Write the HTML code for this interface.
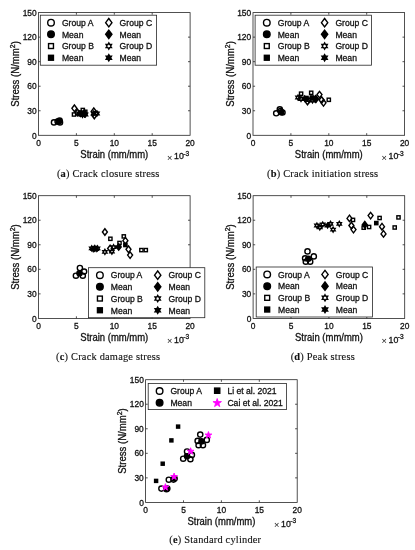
<!DOCTYPE html>
<html><head><meta charset="utf-8"><title>Figure</title>
<style>html,body{margin:0;padding:0;background:#fff}svg{display:block}text{font-family:"Liberation Sans",sans-serif;fill:#111;stroke:#111;stroke-width:0.3px}text.cap{font-family:"Liberation Serif",serif;stroke-width:0.12px}</style>
</head><body>
<svg width="415" height="550" viewBox="0 0 415 550">
<rect width="415" height="550" fill="#fff"/>
<rect x="38.50" y="12.60" width="151.60" height="122.70" fill="#fff" stroke="#262626" stroke-width="0.8"/>
<text transform="translate(38.50 146.30) scale(0.9434 1)" font-size="8.90" text-anchor="middle">0</text>
<path d="M76.40 135.30v-2.1M76.40 12.60v2.1" stroke="#262626" stroke-width="0.8"/>
<text transform="translate(76.40 146.30) scale(0.9434 1)" font-size="8.90" text-anchor="middle">5</text>
<path d="M114.30 135.30v-2.1M114.30 12.60v2.1" stroke="#262626" stroke-width="0.8"/>
<text transform="translate(114.30 146.30) scale(0.9434 1)" font-size="8.90" text-anchor="middle">10</text>
<path d="M152.20 135.30v-2.1M152.20 12.60v2.1" stroke="#262626" stroke-width="0.8"/>
<text transform="translate(152.20 146.30) scale(0.9434 1)" font-size="8.90" text-anchor="middle">15</text>
<text transform="translate(190.10 146.30) scale(0.9434 1)" font-size="8.90" text-anchor="middle">20</text>
<text transform="translate(36.70 139.10) scale(0.9434 1)" font-size="8.90" text-anchor="end">0</text>
<path d="M38.50 110.76h2.1M190.10 110.76h-2.1" stroke="#262626" stroke-width="0.8"/>
<text transform="translate(36.70 113.86) scale(0.9434 1)" font-size="8.90" text-anchor="end">30</text>
<path d="M38.50 86.22h2.1M190.10 86.22h-2.1" stroke="#262626" stroke-width="0.8"/>
<text transform="translate(36.70 89.32) scale(0.9434 1)" font-size="8.90" text-anchor="end">60</text>
<path d="M38.50 61.68h2.1M190.10 61.68h-2.1" stroke="#262626" stroke-width="0.8"/>
<text transform="translate(36.70 64.78) scale(0.9434 1)" font-size="8.90" text-anchor="end">90</text>
<path d="M38.50 37.14h2.1M190.10 37.14h-2.1" stroke="#262626" stroke-width="0.8"/>
<text transform="translate(36.70 40.24) scale(0.9434 1)" font-size="8.90" text-anchor="end">120</text>
<text transform="translate(36.70 15.70) scale(0.9434 1)" font-size="8.90" text-anchor="end">150</text>
<text transform="translate(114.30 158.30) scale(0.9434 1)" font-size="10.07" text-anchor="middle">Strain (mm/mm)</text>
<text transform="translate(166.90 160.70) scale(0.9434 1)" font-size="9.75" style="stroke-width:0">×</text><text transform="translate(174.00 159.40) scale(0.9434 1)" font-size="9.33">10</text><text transform="translate(183.20 156.10) scale(0.9434 1)" font-size="7.00">-3</text>
<text transform="translate(19.20 73.95) rotate(-90) scale(0.9434 1)" font-size="10.18" text-anchor="middle">Stress (N/mm<tspan font-size="7.33" dy="-3.9">2</tspan><tspan dy="3.9">)</tspan></text>
<circle cx="54.00" cy="122.40" r="2.61" fill="none" stroke="#000" stroke-width="1.4"/>
<circle cx="57.60" cy="121.50" r="2.61" fill="none" stroke="#000" stroke-width="1.4"/>
<circle cx="59.60" cy="120.60" r="2.61" fill="none" stroke="#000" stroke-width="1.4"/>
<circle cx="60.00" cy="122.40" r="2.61" fill="none" stroke="#000" stroke-width="1.4"/>
<circle cx="58.80" cy="121.40" r="2.61" fill="#000" stroke="#000" stroke-width="1.4"/>
<rect x="72.38" y="112.88" width="3.23" height="3.23" fill="none" stroke="#000" stroke-width="1.4"/>
<rect x="78.88" y="110.88" width="3.23" height="3.23" fill="none" stroke="#000" stroke-width="1.4"/>
<rect x="81.18" y="108.38" width="3.23" height="3.23" fill="none" stroke="#000" stroke-width="1.4"/>
<rect x="83.68" y="110.18" width="3.23" height="3.23" fill="none" stroke="#000" stroke-width="1.4"/>
<rect x="94.38" y="111.58" width="3.23" height="3.23" fill="none" stroke="#000" stroke-width="1.4"/>
<rect x="81.38" y="111.58" width="3.23" height="3.23" fill="#000" stroke="#000" stroke-width="1.4"/>
<polygon points="74.40,105.02 76.89,108.30 74.40,111.58 71.91,108.30" fill="none" stroke="#000" stroke-width="1.4"/>
<polygon points="77.50,109.22 79.99,112.50 77.50,115.78 75.01,112.50" fill="none" stroke="#000" stroke-width="1.4"/>
<polygon points="93.80,108.02 96.29,111.30 93.80,114.58 91.31,111.30" fill="none" stroke="#000" stroke-width="1.4"/>
<polygon points="94.30,112.22 96.79,115.50 94.30,118.78 91.81,115.50" fill="none" stroke="#000" stroke-width="1.4"/>
<polygon points="84.50,110.22 86.99,113.50 84.50,116.78 82.01,113.50" fill="none" stroke="#000" stroke-width="1.4"/>
<polygon points="84.60,110.32 87.09,113.60 84.60,116.88 82.11,113.60" fill="#000" stroke="#000" stroke-width="1.4"/>
<polygon points="79.00,111.05 79.71,112.28 81.12,112.28 80.41,113.50 81.12,114.72 79.71,114.72 79.00,115.95 78.29,114.72 76.88,114.72 77.59,113.50 76.88,112.28 78.29,112.28" fill="none" stroke="#000" stroke-width="1.4" stroke-linejoin="miter"/>
<polygon points="82.50,112.55 83.21,113.78 84.62,113.78 83.91,115.00 84.62,116.22 83.21,116.22 82.50,117.45 81.79,116.22 80.38,116.22 81.09,115.00 80.38,113.78 81.79,113.78" fill="none" stroke="#000" stroke-width="1.4" stroke-linejoin="miter"/>
<polygon points="85.50,112.05 86.21,113.28 87.62,113.28 86.91,114.50 87.62,115.72 86.21,115.72 85.50,116.95 84.79,115.72 83.38,115.72 84.09,114.50 83.38,113.28 84.79,113.28" fill="none" stroke="#000" stroke-width="1.4" stroke-linejoin="miter"/>
<polygon points="97.00,111.05 97.71,112.28 99.12,112.28 98.41,113.50 99.12,114.72 97.71,114.72 97.00,115.95 96.29,114.72 94.88,114.72 95.59,113.50 94.88,112.28 96.29,112.28" fill="none" stroke="#000" stroke-width="1.4" stroke-linejoin="miter"/>
<polygon points="93.50,111.05 94.21,112.28 95.62,112.28 94.91,113.50 95.62,114.72 94.21,114.72 93.50,115.95 92.79,114.72 91.38,114.72 92.09,113.50 91.38,112.28 92.79,112.28" fill="none" stroke="#000" stroke-width="1.4" stroke-linejoin="miter"/>
<polygon points="80.50,111.55 81.21,112.78 82.62,112.78 81.91,114.00 82.62,115.22 81.21,115.22 80.50,116.45 79.79,115.22 78.38,115.22 79.09,114.00 78.38,112.78 79.79,112.78" fill="#000" stroke="#000" stroke-width="1.4" stroke-linejoin="miter"/>
<rect x="40.30" y="15.20" width="116.3" height="50.0" fill="#fff" stroke="#262626" stroke-width="0.8"/>
<circle cx="51.00" cy="22.65" r="3.30" fill="none" stroke="#000" stroke-width="1.4"/>
<text transform="translate(61.90 25.95) scale(0.9434 1)" font-size="9.12">Group A</text>
<circle cx="51.00" cy="34.35" r="3.30" fill="#000" stroke="#000" stroke-width="1.4"/>
<text transform="translate(61.90 37.65) scale(0.9434 1)" font-size="9.12">Mean</text>
<rect x="48.55" y="43.60" width="4.90" height="4.90" fill="none" stroke="#000" stroke-width="1.4"/>
<text transform="translate(61.90 49.35) scale(0.9434 1)" font-size="9.12">Group B</text>
<rect x="48.55" y="55.30" width="4.90" height="4.90" fill="#000" stroke="#000" stroke-width="1.4"/>
<text transform="translate(61.90 61.05) scale(0.9434 1)" font-size="9.12">Mean</text>
<polygon points="108.80,18.50 111.95,22.65 108.80,26.80 105.65,22.65" fill="none" stroke="#000" stroke-width="1.4"/>
<text transform="translate(119.60 25.95) scale(0.9434 1)" font-size="9.12">Group C</text>
<polygon points="108.80,30.20 111.95,34.35 108.80,38.50 105.65,34.35" fill="#000" stroke="#000" stroke-width="1.4"/>
<text transform="translate(119.60 37.65) scale(0.9434 1)" font-size="9.12">Mean</text>
<polygon points="108.80,42.95 109.69,44.50 111.48,44.50 110.59,46.05 111.48,47.60 109.69,47.60 108.80,49.15 107.91,47.60 106.12,47.60 107.01,46.05 106.12,44.50 107.91,44.50" fill="none" stroke="#000" stroke-width="1.4" stroke-linejoin="miter"/>
<text transform="translate(119.60 49.35) scale(0.9434 1)" font-size="9.12">Group D</text>
<polygon points="108.80,54.65 109.69,56.20 111.48,56.20 110.59,57.75 111.48,59.30 109.69,59.30 108.80,60.85 107.91,59.30 106.12,59.30 107.01,57.75 106.12,56.20 107.91,56.20" fill="#000" stroke="#000" stroke-width="1.4" stroke-linejoin="miter"/>
<text transform="translate(119.60 61.05) scale(0.9434 1)" font-size="9.12">Mean</text>
<text x="108.20" y="176.50" class="cap" font-size="10.4" letter-spacing="0.2" text-anchor="middle" fill="#222">(<tspan font-weight="bold">a</tspan>) Crack closure stress</text>
<rect x="253.00" y="12.60" width="151.60" height="122.70" fill="#fff" stroke="#262626" stroke-width="0.8"/>
<text transform="translate(253.00 146.30) scale(0.9434 1)" font-size="8.90" text-anchor="middle">0</text>
<path d="M290.90 135.30v-2.1M290.90 12.60v2.1" stroke="#262626" stroke-width="0.8"/>
<text transform="translate(290.90 146.30) scale(0.9434 1)" font-size="8.90" text-anchor="middle">5</text>
<path d="M328.80 135.30v-2.1M328.80 12.60v2.1" stroke="#262626" stroke-width="0.8"/>
<text transform="translate(328.80 146.30) scale(0.9434 1)" font-size="8.90" text-anchor="middle">10</text>
<path d="M366.70 135.30v-2.1M366.70 12.60v2.1" stroke="#262626" stroke-width="0.8"/>
<text transform="translate(366.70 146.30) scale(0.9434 1)" font-size="8.90" text-anchor="middle">15</text>
<text transform="translate(404.60 146.30) scale(0.9434 1)" font-size="8.90" text-anchor="middle">20</text>
<text transform="translate(251.20 139.10) scale(0.9434 1)" font-size="8.90" text-anchor="end">0</text>
<path d="M253.00 110.76h2.1M404.60 110.76h-2.1" stroke="#262626" stroke-width="0.8"/>
<text transform="translate(251.20 113.86) scale(0.9434 1)" font-size="8.90" text-anchor="end">30</text>
<path d="M253.00 86.22h2.1M404.60 86.22h-2.1" stroke="#262626" stroke-width="0.8"/>
<text transform="translate(251.20 89.32) scale(0.9434 1)" font-size="8.90" text-anchor="end">60</text>
<path d="M253.00 61.68h2.1M404.60 61.68h-2.1" stroke="#262626" stroke-width="0.8"/>
<text transform="translate(251.20 64.78) scale(0.9434 1)" font-size="8.90" text-anchor="end">90</text>
<path d="M253.00 37.14h2.1M404.60 37.14h-2.1" stroke="#262626" stroke-width="0.8"/>
<text transform="translate(251.20 40.24) scale(0.9434 1)" font-size="8.90" text-anchor="end">120</text>
<text transform="translate(251.20 15.70) scale(0.9434 1)" font-size="8.90" text-anchor="end">150</text>
<text transform="translate(328.80 158.30) scale(0.9434 1)" font-size="10.07" text-anchor="middle">Strain (mm/mm)</text>
<text transform="translate(381.40 160.70) scale(0.9434 1)" font-size="9.75" style="stroke-width:0">×</text><text transform="translate(388.50 159.40) scale(0.9434 1)" font-size="9.33">10</text><text transform="translate(397.70 156.10) scale(0.9434 1)" font-size="7.00">-3</text>
<text transform="translate(233.70 73.95) rotate(-90) scale(0.9434 1)" font-size="10.18" text-anchor="middle">Stress (N/mm<tspan font-size="7.33" dy="-3.9">2</tspan><tspan dy="3.9">)</tspan></text>
<circle cx="276.20" cy="113.30" r="2.61" fill="none" stroke="#000" stroke-width="1.4"/>
<circle cx="279.80" cy="109.30" r="2.61" fill="none" stroke="#000" stroke-width="1.4"/>
<circle cx="280.50" cy="111.00" r="2.61" fill="none" stroke="#000" stroke-width="1.4"/>
<circle cx="282.50" cy="112.50" r="2.61" fill="none" stroke="#000" stroke-width="1.4"/>
<circle cx="281.20" cy="112.20" r="2.61" fill="#000" stroke="#000" stroke-width="1.4"/>
<rect x="299.48" y="92.08" width="3.23" height="3.23" fill="none" stroke="#000" stroke-width="1.4"/>
<rect x="309.58" y="91.18" width="3.23" height="3.23" fill="none" stroke="#000" stroke-width="1.4"/>
<rect x="327.18" y="98.18" width="3.23" height="3.23" fill="none" stroke="#000" stroke-width="1.4"/>
<rect x="304.88" y="96.38" width="3.23" height="3.23" fill="none" stroke="#000" stroke-width="1.4"/>
<rect x="312.38" y="96.88" width="3.23" height="3.23" fill="none" stroke="#000" stroke-width="1.4"/>
<rect x="310.38" y="95.88" width="3.23" height="3.23" fill="#000" stroke="#000" stroke-width="1.4"/>
<polygon points="319.50,91.32 321.99,94.60 319.50,97.88 317.01,94.60" fill="none" stroke="#000" stroke-width="1.4"/>
<polygon points="323.50,99.52 325.99,102.80 323.50,106.08 321.01,102.80" fill="none" stroke="#000" stroke-width="1.4"/>
<polygon points="321.60,96.72 324.09,100.00 321.60,103.28 319.11,100.00" fill="none" stroke="#000" stroke-width="1.4"/>
<polygon points="307.50,98.22 309.99,101.50 307.50,104.78 305.01,101.50" fill="none" stroke="#000" stroke-width="1.4"/>
<polygon points="316.00,95.72 318.49,99.00 316.00,102.28 313.51,99.00" fill="none" stroke="#000" stroke-width="1.4"/>
<polygon points="315.50,95.72 317.99,99.00 315.50,102.28 313.01,99.00" fill="#000" stroke="#000" stroke-width="1.4"/>
<polygon points="298.00,95.05 298.71,96.28 300.12,96.28 299.41,97.50 300.12,98.72 298.71,98.72 298.00,99.95 297.29,98.72 295.88,98.72 296.59,97.50 295.88,96.28 297.29,96.28" fill="none" stroke="#000" stroke-width="1.4" stroke-linejoin="miter"/>
<polygon points="301.00,96.55 301.71,97.78 303.12,97.78 302.41,99.00 303.12,100.22 301.71,100.22 301.00,101.45 300.29,100.22 298.88,100.22 299.59,99.00 298.88,97.78 300.29,97.78" fill="none" stroke="#000" stroke-width="1.4" stroke-linejoin="miter"/>
<polygon points="304.50,96.05 305.21,97.28 306.62,97.28 305.91,98.50 306.62,99.72 305.21,99.72 304.50,100.95 303.79,99.72 302.38,99.72 303.09,98.50 302.38,97.28 303.79,97.28" fill="none" stroke="#000" stroke-width="1.4" stroke-linejoin="miter"/>
<polygon points="309.00,97.55 309.71,98.78 311.12,98.78 310.41,100.00 311.12,101.22 309.71,101.22 309.00,102.45 308.29,101.22 306.88,101.22 307.59,100.00 306.88,98.78 308.29,98.78" fill="none" stroke="#000" stroke-width="1.4" stroke-linejoin="miter"/>
<polygon points="312.50,98.05 313.21,99.28 314.62,99.28 313.91,100.50 314.62,101.72 313.21,101.72 312.50,102.95 311.79,101.72 310.38,101.72 311.09,100.50 310.38,99.28 311.79,99.28" fill="none" stroke="#000" stroke-width="1.4" stroke-linejoin="miter"/>
<polygon points="305.00,96.55 305.71,97.78 307.12,97.78 306.41,99.00 307.12,100.22 305.71,100.22 305.00,101.45 304.29,100.22 302.88,100.22 303.59,99.00 302.88,97.78 304.29,97.78" fill="#000" stroke="#000" stroke-width="1.4" stroke-linejoin="miter"/>
<rect x="255.10" y="15.20" width="116.3" height="50.0" fill="#fff" stroke="#262626" stroke-width="0.8"/>
<circle cx="266.80" cy="22.65" r="3.30" fill="none" stroke="#000" stroke-width="1.4"/>
<text transform="translate(277.70 25.95) scale(0.9434 1)" font-size="9.12">Group A</text>
<circle cx="266.80" cy="34.35" r="3.30" fill="#000" stroke="#000" stroke-width="1.4"/>
<text transform="translate(277.70 37.65) scale(0.9434 1)" font-size="9.12">Mean</text>
<rect x="264.35" y="43.60" width="4.90" height="4.90" fill="none" stroke="#000" stroke-width="1.4"/>
<text transform="translate(277.70 49.35) scale(0.9434 1)" font-size="9.12">Group B</text>
<rect x="264.35" y="55.30" width="4.90" height="4.90" fill="#000" stroke="#000" stroke-width="1.4"/>
<text transform="translate(277.70 61.05) scale(0.9434 1)" font-size="9.12">Mean</text>
<polygon points="324.60,18.50 327.75,22.65 324.60,26.80 321.45,22.65" fill="none" stroke="#000" stroke-width="1.4"/>
<text transform="translate(335.40 25.95) scale(0.9434 1)" font-size="9.12">Group C</text>
<polygon points="324.60,30.20 327.75,34.35 324.60,38.50 321.45,34.35" fill="#000" stroke="#000" stroke-width="1.4"/>
<text transform="translate(335.40 37.65) scale(0.9434 1)" font-size="9.12">Mean</text>
<polygon points="324.60,42.95 325.49,44.50 327.28,44.50 326.39,46.05 327.28,47.60 325.49,47.60 324.60,49.15 323.71,47.60 321.92,47.60 322.81,46.05 321.92,44.50 323.71,44.50" fill="none" stroke="#000" stroke-width="1.4" stroke-linejoin="miter"/>
<text transform="translate(335.40 49.35) scale(0.9434 1)" font-size="9.12">Group D</text>
<polygon points="324.60,54.65 325.49,56.20 327.28,56.20 326.39,57.75 327.28,59.30 325.49,59.30 324.60,60.85 323.71,59.30 321.92,59.30 322.81,57.75 321.92,56.20 323.71,56.20" fill="#000" stroke="#000" stroke-width="1.4" stroke-linejoin="miter"/>
<text transform="translate(335.40 61.05) scale(0.9434 1)" font-size="9.12">Mean</text>
<text x="322.70" y="176.50" class="cap" font-size="10.4" letter-spacing="0.2" text-anchor="middle" fill="#222">(<tspan font-weight="bold">b</tspan>) Crack initiation stress</text>
<rect x="38.50" y="195.70" width="151.60" height="122.70" fill="#fff" stroke="#262626" stroke-width="0.8"/>
<text transform="translate(38.50 329.40) scale(0.9434 1)" font-size="8.90" text-anchor="middle">0</text>
<path d="M76.40 318.40v-2.1M76.40 195.70v2.1" stroke="#262626" stroke-width="0.8"/>
<text transform="translate(76.40 329.40) scale(0.9434 1)" font-size="8.90" text-anchor="middle">5</text>
<path d="M114.30 318.40v-2.1M114.30 195.70v2.1" stroke="#262626" stroke-width="0.8"/>
<text transform="translate(114.30 329.40) scale(0.9434 1)" font-size="8.90" text-anchor="middle">10</text>
<path d="M152.20 318.40v-2.1M152.20 195.70v2.1" stroke="#262626" stroke-width="0.8"/>
<text transform="translate(152.20 329.40) scale(0.9434 1)" font-size="8.90" text-anchor="middle">15</text>
<text transform="translate(190.10 329.40) scale(0.9434 1)" font-size="8.90" text-anchor="middle">20</text>
<text transform="translate(36.70 322.20) scale(0.9434 1)" font-size="8.90" text-anchor="end">0</text>
<path d="M38.50 293.86h2.1M190.10 293.86h-2.1" stroke="#262626" stroke-width="0.8"/>
<text transform="translate(36.70 296.96) scale(0.9434 1)" font-size="8.90" text-anchor="end">30</text>
<path d="M38.50 269.32h2.1M190.10 269.32h-2.1" stroke="#262626" stroke-width="0.8"/>
<text transform="translate(36.70 272.42) scale(0.9434 1)" font-size="8.90" text-anchor="end">60</text>
<path d="M38.50 244.78h2.1M190.10 244.78h-2.1" stroke="#262626" stroke-width="0.8"/>
<text transform="translate(36.70 247.88) scale(0.9434 1)" font-size="8.90" text-anchor="end">90</text>
<path d="M38.50 220.24h2.1M190.10 220.24h-2.1" stroke="#262626" stroke-width="0.8"/>
<text transform="translate(36.70 223.34) scale(0.9434 1)" font-size="8.90" text-anchor="end">120</text>
<text transform="translate(36.70 198.80) scale(0.9434 1)" font-size="8.90" text-anchor="end">150</text>
<text transform="translate(114.30 341.40) scale(0.9434 1)" font-size="10.07" text-anchor="middle">Strain (mm/mm)</text>
<text transform="translate(166.90 343.80) scale(0.9434 1)" font-size="9.75" style="stroke-width:0">×</text><text transform="translate(174.00 342.50) scale(0.9434 1)" font-size="9.33">10</text><text transform="translate(183.20 339.20) scale(0.9434 1)" font-size="7.00">-3</text>
<text transform="translate(19.20 257.05) rotate(-90) scale(0.9434 1)" font-size="10.18" text-anchor="middle">Stress (N/mm<tspan font-size="7.33" dy="-3.9">2</tspan><tspan dy="3.9">)</tspan></text>
<circle cx="79.90" cy="268.00" r="2.61" fill="none" stroke="#000" stroke-width="1.4"/>
<circle cx="84.10" cy="271.60" r="2.61" fill="none" stroke="#000" stroke-width="1.4"/>
<circle cx="75.90" cy="275.70" r="2.61" fill="none" stroke="#000" stroke-width="1.4"/>
<circle cx="82.80" cy="275.70" r="2.61" fill="none" stroke="#000" stroke-width="1.4"/>
<circle cx="79.50" cy="273.30" r="2.61" fill="#000" stroke="#000" stroke-width="1.4"/>
<rect x="108.78" y="237.18" width="3.23" height="3.23" fill="none" stroke="#000" stroke-width="1.4"/>
<rect x="122.18" y="234.78" width="3.23" height="3.23" fill="none" stroke="#000" stroke-width="1.4"/>
<rect x="117.88" y="241.38" width="3.23" height="3.23" fill="none" stroke="#000" stroke-width="1.4"/>
<rect x="139.78" y="248.48" width="3.23" height="3.23" fill="none" stroke="#000" stroke-width="1.4"/>
<rect x="144.18" y="248.48" width="3.23" height="3.23" fill="none" stroke="#000" stroke-width="1.4"/>
<rect x="123.78" y="243.38" width="3.23" height="3.23" fill="#000" stroke="#000" stroke-width="1.4"/>
<polygon points="104.90,228.72 107.39,232.00 104.90,235.28 102.41,232.00" fill="none" stroke="#000" stroke-width="1.4"/>
<polygon points="125.40,237.42 127.89,240.70 125.40,243.98 122.91,240.70" fill="none" stroke="#000" stroke-width="1.4"/>
<polygon points="128.50,246.02 130.99,249.30 128.50,252.58 126.01,249.30" fill="none" stroke="#000" stroke-width="1.4"/>
<polygon points="130.10,251.82 132.59,255.10 130.10,258.38 127.61,255.10" fill="none" stroke="#000" stroke-width="1.4"/>
<polygon points="110.10,245.22 112.59,248.50 110.10,251.78 107.61,248.50" fill="none" stroke="#000" stroke-width="1.4"/>
<polygon points="118.70,243.62 121.19,246.90 118.70,250.18 116.21,246.90" fill="#000" stroke="#000" stroke-width="1.4"/>
<polygon points="91.70,245.85 92.41,247.08 93.82,247.08 93.11,248.30 93.82,249.52 92.41,249.52 91.70,250.75 90.99,249.52 89.58,249.52 90.29,248.30 89.58,247.08 90.99,247.08" fill="none" stroke="#000" stroke-width="1.4" stroke-linejoin="miter"/>
<polygon points="93.20,246.75 93.91,247.98 95.32,247.98 94.61,249.20 95.32,250.42 93.91,250.42 93.20,251.65 92.49,250.42 91.08,250.42 91.79,249.20 91.08,247.98 92.49,247.98" fill="none" stroke="#000" stroke-width="1.4" stroke-linejoin="miter"/>
<polygon points="94.80,245.55 95.51,246.78 96.92,246.78 96.21,248.00 96.92,249.22 95.51,249.22 94.80,250.45 94.09,249.22 92.68,249.22 93.39,248.00 92.68,246.78 94.09,246.78" fill="none" stroke="#000" stroke-width="1.4" stroke-linejoin="miter"/>
<polygon points="96.20,246.55 96.91,247.78 98.32,247.78 97.61,249.00 98.32,250.22 96.91,250.22 96.20,251.45 95.49,250.22 94.08,250.22 94.79,249.00 94.08,247.78 95.49,247.78" fill="none" stroke="#000" stroke-width="1.4" stroke-linejoin="miter"/>
<polygon points="97.50,245.95 98.21,247.18 99.62,247.18 98.91,248.40 99.62,249.62 98.21,249.62 97.50,250.85 96.79,249.62 95.38,249.62 96.09,248.40 95.38,247.18 96.79,247.18" fill="none" stroke="#000" stroke-width="1.4" stroke-linejoin="miter"/>
<polygon points="104.90,249.45 105.61,250.68 107.02,250.68 106.31,251.90 107.02,253.12 105.61,253.12 104.90,254.35 104.19,253.12 102.78,253.12 103.49,251.90 102.78,250.68 104.19,250.68" fill="none" stroke="#000" stroke-width="1.4" stroke-linejoin="miter"/>
<polygon points="111.90,249.15 112.61,250.38 114.02,250.38 113.31,251.60 114.02,252.82 112.61,252.82 111.90,254.05 111.19,252.82 109.78,252.82 110.49,251.60 109.78,250.38 111.19,250.38" fill="none" stroke="#000" stroke-width="1.4" stroke-linejoin="miter"/>
<polygon points="113.60,244.75 114.31,245.98 115.72,245.98 115.01,247.20 115.72,248.42 114.31,248.42 113.60,249.65 112.89,248.42 111.48,248.42 112.19,247.20 111.48,245.98 112.89,245.98" fill="none" stroke="#000" stroke-width="1.4" stroke-linejoin="miter"/>
<polygon points="94.60,246.15 95.31,247.38 96.72,247.38 96.01,248.60 96.72,249.82 95.31,249.82 94.60,251.05 93.89,249.82 92.48,249.82 93.19,248.60 92.48,247.38 93.89,247.38" fill="#000" stroke="#000" stroke-width="1.4" stroke-linejoin="miter"/>
<rect x="88.50" y="267.70" width="116.3" height="50.0" fill="#fff" stroke="#262626" stroke-width="0.8"/>
<circle cx="99.90" cy="275.15" r="3.30" fill="none" stroke="#000" stroke-width="1.4"/>
<text transform="translate(110.80 278.45) scale(0.9434 1)" font-size="9.12">Group A</text>
<circle cx="99.90" cy="286.85" r="3.30" fill="#000" stroke="#000" stroke-width="1.4"/>
<text transform="translate(110.80 290.15) scale(0.9434 1)" font-size="9.12">Mean</text>
<rect x="97.45" y="296.10" width="4.90" height="4.90" fill="none" stroke="#000" stroke-width="1.4"/>
<text transform="translate(110.80 301.85) scale(0.9434 1)" font-size="9.12">Group B</text>
<rect x="97.45" y="307.80" width="4.90" height="4.90" fill="#000" stroke="#000" stroke-width="1.4"/>
<text transform="translate(110.80 313.55) scale(0.9434 1)" font-size="9.12">Mean</text>
<polygon points="157.70,271.00 160.85,275.15 157.70,279.30 154.55,275.15" fill="none" stroke="#000" stroke-width="1.4"/>
<text transform="translate(168.50 278.45) scale(0.9434 1)" font-size="9.12">Group C</text>
<polygon points="157.70,282.70 160.85,286.85 157.70,291.00 154.55,286.85" fill="#000" stroke="#000" stroke-width="1.4"/>
<text transform="translate(168.50 290.15) scale(0.9434 1)" font-size="9.12">Mean</text>
<polygon points="157.70,295.45 158.59,297.00 160.38,297.00 159.49,298.55 160.38,300.10 158.59,300.10 157.70,301.65 156.81,300.10 155.02,300.10 155.91,298.55 155.02,297.00 156.81,297.00" fill="none" stroke="#000" stroke-width="1.4" stroke-linejoin="miter"/>
<text transform="translate(168.50 301.85) scale(0.9434 1)" font-size="9.12">Group D</text>
<polygon points="157.70,307.15 158.59,308.70 160.38,308.70 159.49,310.25 160.38,311.80 158.59,311.80 157.70,313.35 156.81,311.80 155.02,311.80 155.91,310.25 155.02,308.70 156.81,308.70" fill="#000" stroke="#000" stroke-width="1.4" stroke-linejoin="miter"/>
<text transform="translate(168.50 313.55) scale(0.9434 1)" font-size="9.12">Mean</text>
<text x="108.20" y="359.60" class="cap" font-size="10.4" letter-spacing="0.2" text-anchor="middle" fill="#222">(<tspan font-weight="bold">c</tspan>) Crack damage stress</text>
<rect x="253.10" y="195.70" width="151.60" height="122.70" fill="#fff" stroke="#262626" stroke-width="0.8"/>
<text transform="translate(253.10 329.40) scale(0.9434 1)" font-size="8.90" text-anchor="middle">0</text>
<path d="M291.00 318.40v-2.1M291.00 195.70v2.1" stroke="#262626" stroke-width="0.8"/>
<text transform="translate(291.00 329.40) scale(0.9434 1)" font-size="8.90" text-anchor="middle">5</text>
<path d="M328.90 318.40v-2.1M328.90 195.70v2.1" stroke="#262626" stroke-width="0.8"/>
<text transform="translate(328.90 329.40) scale(0.9434 1)" font-size="8.90" text-anchor="middle">10</text>
<path d="M366.80 318.40v-2.1M366.80 195.70v2.1" stroke="#262626" stroke-width="0.8"/>
<text transform="translate(366.80 329.40) scale(0.9434 1)" font-size="8.90" text-anchor="middle">15</text>
<text transform="translate(404.70 329.40) scale(0.9434 1)" font-size="8.90" text-anchor="middle">20</text>
<text transform="translate(251.30 322.20) scale(0.9434 1)" font-size="8.90" text-anchor="end">0</text>
<path d="M253.10 293.86h2.1M404.70 293.86h-2.1" stroke="#262626" stroke-width="0.8"/>
<text transform="translate(251.30 296.96) scale(0.9434 1)" font-size="8.90" text-anchor="end">30</text>
<path d="M253.10 269.32h2.1M404.70 269.32h-2.1" stroke="#262626" stroke-width="0.8"/>
<text transform="translate(251.30 272.42) scale(0.9434 1)" font-size="8.90" text-anchor="end">60</text>
<path d="M253.10 244.78h2.1M404.70 244.78h-2.1" stroke="#262626" stroke-width="0.8"/>
<text transform="translate(251.30 247.88) scale(0.9434 1)" font-size="8.90" text-anchor="end">90</text>
<path d="M253.10 220.24h2.1M404.70 220.24h-2.1" stroke="#262626" stroke-width="0.8"/>
<text transform="translate(251.30 223.34) scale(0.9434 1)" font-size="8.90" text-anchor="end">120</text>
<text transform="translate(251.30 198.80) scale(0.9434 1)" font-size="8.90" text-anchor="end">150</text>
<text transform="translate(328.90 341.40) scale(0.9434 1)" font-size="10.07" text-anchor="middle">Strain (mm/mm)</text>
<text transform="translate(381.50 343.80) scale(0.9434 1)" font-size="9.75" style="stroke-width:0">×</text><text transform="translate(388.60 342.50) scale(0.9434 1)" font-size="9.33">10</text><text transform="translate(397.80 339.20) scale(0.9434 1)" font-size="7.00">-3</text>
<text transform="translate(233.80 257.05) rotate(-90) scale(0.9434 1)" font-size="10.18" text-anchor="middle">Stress (N/mm<tspan font-size="7.33" dy="-3.9">2</tspan><tspan dy="3.9">)</tspan></text>
<circle cx="307.50" cy="251.40" r="2.61" fill="none" stroke="#000" stroke-width="1.4"/>
<circle cx="313.80" cy="256.40" r="2.61" fill="none" stroke="#000" stroke-width="1.4"/>
<circle cx="305.10" cy="258.30" r="2.61" fill="none" stroke="#000" stroke-width="1.4"/>
<circle cx="305.80" cy="261.70" r="2.61" fill="none" stroke="#000" stroke-width="1.4"/>
<circle cx="310.20" cy="261.70" r="2.61" fill="none" stroke="#000" stroke-width="1.4"/>
<circle cx="308.30" cy="258.80" r="2.61" fill="#000" stroke="#000" stroke-width="1.4"/>
<rect x="351.38" y="218.28" width="3.23" height="3.23" fill="none" stroke="#000" stroke-width="1.4"/>
<rect x="362.08" y="226.08" width="3.23" height="3.23" fill="none" stroke="#000" stroke-width="1.4"/>
<rect x="367.48" y="225.38" width="3.23" height="3.23" fill="none" stroke="#000" stroke-width="1.4"/>
<rect x="377.98" y="216.38" width="3.23" height="3.23" fill="none" stroke="#000" stroke-width="1.4"/>
<rect x="393.08" y="225.88" width="3.23" height="3.23" fill="none" stroke="#000" stroke-width="1.4"/>
<rect x="396.88" y="215.78" width="3.23" height="3.23" fill="none" stroke="#000" stroke-width="1.4"/>
<rect x="374.68" y="221.48" width="3.23" height="3.23" fill="#000" stroke="#000" stroke-width="1.4"/>
<polygon points="349.50,215.12 351.99,218.40 349.50,221.68 347.01,218.40" fill="none" stroke="#000" stroke-width="1.4"/>
<polygon points="351.40,222.22 353.89,225.50 351.40,228.78 348.91,225.50" fill="none" stroke="#000" stroke-width="1.4"/>
<polygon points="353.50,226.32 355.99,229.60 353.50,232.88 351.01,229.60" fill="none" stroke="#000" stroke-width="1.4"/>
<polygon points="370.60,212.32 373.09,215.60 370.60,218.88 368.11,215.60" fill="none" stroke="#000" stroke-width="1.4"/>
<polygon points="382.00,223.42 384.49,226.70 382.00,229.98 379.51,226.70" fill="none" stroke="#000" stroke-width="1.4"/>
<polygon points="383.50,230.62 385.99,233.90 383.50,237.18 381.01,233.90" fill="none" stroke="#000" stroke-width="1.4"/>
<polygon points="364.80,221.52 367.29,224.80 364.80,228.08 362.31,224.80" fill="#000" stroke="#000" stroke-width="1.4"/>
<polygon points="316.90,223.05 317.61,224.28 319.02,224.28 318.31,225.50 319.02,226.72 317.61,226.72 316.90,227.95 316.19,226.72 314.78,226.72 315.49,225.50 314.78,224.28 316.19,224.28" fill="none" stroke="#000" stroke-width="1.4" stroke-linejoin="miter"/>
<polygon points="319.80,224.95 320.51,226.18 321.92,226.18 321.21,227.40 321.92,228.62 320.51,228.62 319.80,229.85 319.09,228.62 317.68,228.62 318.39,227.40 317.68,226.18 319.09,226.18" fill="none" stroke="#000" stroke-width="1.4" stroke-linejoin="miter"/>
<polygon points="322.70,222.05 323.41,223.28 324.82,223.28 324.11,224.50 324.82,225.72 323.41,225.72 322.70,226.95 321.99,225.72 320.58,225.72 321.29,224.50 320.58,223.28 321.99,223.28" fill="none" stroke="#000" stroke-width="1.4" stroke-linejoin="miter"/>
<polygon points="330.50,221.35 331.21,222.58 332.62,222.58 331.91,223.80 332.62,225.02 331.21,225.02 330.50,226.25 329.79,225.02 328.38,225.02 329.09,223.80 328.38,222.58 329.79,222.58" fill="none" stroke="#000" stroke-width="1.4" stroke-linejoin="miter"/>
<polygon points="333.10,227.15 333.81,228.38 335.22,228.38 334.51,229.60 335.22,230.82 333.81,230.82 333.10,232.05 332.39,230.82 330.98,230.82 331.69,229.60 330.98,228.38 332.39,228.38" fill="none" stroke="#000" stroke-width="1.4" stroke-linejoin="miter"/>
<polygon points="339.30,221.35 340.01,222.58 341.42,222.58 340.71,223.80 341.42,225.02 340.01,225.02 339.30,226.25 338.59,225.02 337.18,225.02 337.89,223.80 337.18,222.58 338.59,222.58" fill="none" stroke="#000" stroke-width="1.4" stroke-linejoin="miter"/>
<polygon points="327.60,223.05 328.31,224.28 329.72,224.28 329.01,225.50 329.72,226.72 328.31,226.72 327.60,227.95 326.89,226.72 325.48,226.72 326.19,225.50 325.48,224.28 326.89,224.28" fill="#000" stroke="#000" stroke-width="1.4" stroke-linejoin="miter"/>
<rect x="256.20" y="267.00" width="116.3" height="50.0" fill="#fff" stroke="#262626" stroke-width="0.8"/>
<circle cx="267.20" cy="274.45" r="3.30" fill="none" stroke="#000" stroke-width="1.4"/>
<text transform="translate(278.10 277.75) scale(0.9434 1)" font-size="9.12">Group A</text>
<circle cx="267.20" cy="286.15" r="3.30" fill="#000" stroke="#000" stroke-width="1.4"/>
<text transform="translate(278.10 289.45) scale(0.9434 1)" font-size="9.12">Mean</text>
<rect x="264.75" y="295.40" width="4.90" height="4.90" fill="none" stroke="#000" stroke-width="1.4"/>
<text transform="translate(278.10 301.15) scale(0.9434 1)" font-size="9.12">Group B</text>
<rect x="264.75" y="307.10" width="4.90" height="4.90" fill="#000" stroke="#000" stroke-width="1.4"/>
<text transform="translate(278.10 312.85) scale(0.9434 1)" font-size="9.12">Mean</text>
<polygon points="325.00,270.30 328.15,274.45 325.00,278.60 321.85,274.45" fill="none" stroke="#000" stroke-width="1.4"/>
<text transform="translate(335.80 277.75) scale(0.9434 1)" font-size="9.12">Group C</text>
<polygon points="325.00,282.00 328.15,286.15 325.00,290.30 321.85,286.15" fill="#000" stroke="#000" stroke-width="1.4"/>
<text transform="translate(335.80 289.45) scale(0.9434 1)" font-size="9.12">Mean</text>
<polygon points="325.00,294.75 325.89,296.30 327.68,296.30 326.79,297.85 327.68,299.40 325.89,299.40 325.00,300.95 324.11,299.40 322.32,299.40 323.21,297.85 322.32,296.30 324.11,296.30" fill="none" stroke="#000" stroke-width="1.4" stroke-linejoin="miter"/>
<text transform="translate(335.80 301.15) scale(0.9434 1)" font-size="9.12">Group D</text>
<polygon points="325.00,306.45 325.89,308.00 327.68,308.00 326.79,309.55 327.68,311.10 325.89,311.10 325.00,312.65 324.11,311.10 322.32,311.10 323.21,309.55 322.32,308.00 324.11,308.00" fill="#000" stroke="#000" stroke-width="1.4" stroke-linejoin="miter"/>
<text transform="translate(335.80 312.85) scale(0.9434 1)" font-size="9.12">Mean</text>
<text x="322.80" y="359.60" class="cap" font-size="10.4" letter-spacing="0.2" text-anchor="middle" fill="#222">(<tspan font-weight="bold">d</tspan>) Peak stress</text>
<rect x="145.60" y="379.70" width="151.60" height="122.70" fill="#fff" stroke="#262626" stroke-width="0.8"/>
<text transform="translate(145.60 513.40) scale(0.9434 1)" font-size="8.90" text-anchor="middle">0</text>
<path d="M183.50 502.40v-2.1M183.50 379.70v2.1" stroke="#262626" stroke-width="0.8"/>
<text transform="translate(183.50 513.40) scale(0.9434 1)" font-size="8.90" text-anchor="middle">5</text>
<path d="M221.40 502.40v-2.1M221.40 379.70v2.1" stroke="#262626" stroke-width="0.8"/>
<text transform="translate(221.40 513.40) scale(0.9434 1)" font-size="8.90" text-anchor="middle">10</text>
<path d="M259.30 502.40v-2.1M259.30 379.70v2.1" stroke="#262626" stroke-width="0.8"/>
<text transform="translate(259.30 513.40) scale(0.9434 1)" font-size="8.90" text-anchor="middle">15</text>
<text transform="translate(297.20 513.40) scale(0.9434 1)" font-size="8.90" text-anchor="middle">20</text>
<text transform="translate(143.80 506.20) scale(0.9434 1)" font-size="8.90" text-anchor="end">0</text>
<path d="M145.60 477.86h2.1M297.20 477.86h-2.1" stroke="#262626" stroke-width="0.8"/>
<text transform="translate(143.80 480.96) scale(0.9434 1)" font-size="8.90" text-anchor="end">30</text>
<path d="M145.60 453.32h2.1M297.20 453.32h-2.1" stroke="#262626" stroke-width="0.8"/>
<text transform="translate(143.80 456.42) scale(0.9434 1)" font-size="8.90" text-anchor="end">60</text>
<path d="M145.60 428.78h2.1M297.20 428.78h-2.1" stroke="#262626" stroke-width="0.8"/>
<text transform="translate(143.80 431.88) scale(0.9434 1)" font-size="8.90" text-anchor="end">90</text>
<path d="M145.60 404.24h2.1M297.20 404.24h-2.1" stroke="#262626" stroke-width="0.8"/>
<text transform="translate(143.80 407.34) scale(0.9434 1)" font-size="8.90" text-anchor="end">120</text>
<text transform="translate(143.80 382.80) scale(0.9434 1)" font-size="8.90" text-anchor="end">150</text>
<text transform="translate(221.40 525.40) scale(0.9434 1)" font-size="10.07" text-anchor="middle">Strain (mm/mm)</text>
<text transform="translate(274.00 527.80) scale(0.9434 1)" font-size="9.75" style="stroke-width:0">×</text><text transform="translate(281.10 526.50) scale(0.9434 1)" font-size="9.33">10</text><text transform="translate(290.30 523.20) scale(0.9434 1)" font-size="7.00">-3</text>
<text transform="translate(126.30 441.05) rotate(-90) scale(0.9434 1)" font-size="10.18" text-anchor="middle">Stress (N/mm<tspan font-size="7.33" dy="-3.9">2</tspan><tspan dy="3.9">)</tspan></text>
<rect x="154.58" y="479.38" width="3.04" height="3.04" fill="#000" stroke="#000" stroke-width="1.4"/>
<rect x="161.18" y="462.18" width="3.04" height="3.04" fill="#000" stroke="#000" stroke-width="1.4"/>
<rect x="169.88" y="438.88" width="3.04" height="3.04" fill="#000" stroke="#000" stroke-width="1.4"/>
<rect x="176.58" y="425.08" width="3.04" height="3.04" fill="#000" stroke="#000" stroke-width="1.4"/>
<circle cx="161.40" cy="488.60" r="2.61" fill="none" stroke="#000" stroke-width="1.4"/>
<circle cx="166.50" cy="489.20" r="2.61" fill="none" stroke="#000" stroke-width="1.4"/>
<circle cx="168.80" cy="479.70" r="2.61" fill="none" stroke="#000" stroke-width="1.4"/>
<circle cx="173.50" cy="479.60" r="2.61" fill="none" stroke="#000" stroke-width="1.4"/>
<circle cx="187.05" cy="451.50" r="2.61" fill="none" stroke="#000" stroke-width="1.4"/>
<circle cx="183.20" cy="458.70" r="2.61" fill="none" stroke="#000" stroke-width="1.4"/>
<circle cx="190.40" cy="459.20" r="2.61" fill="none" stroke="#000" stroke-width="1.4"/>
<circle cx="191.90" cy="454.90" r="2.61" fill="none" stroke="#000" stroke-width="1.4"/>
<circle cx="200.25" cy="434.60" r="2.61" fill="none" stroke="#000" stroke-width="1.4"/>
<circle cx="206.80" cy="439.90" r="2.61" fill="none" stroke="#000" stroke-width="1.4"/>
<circle cx="197.65" cy="440.90" r="2.61" fill="none" stroke="#000" stroke-width="1.4"/>
<circle cx="198.60" cy="445.20" r="2.61" fill="none" stroke="#000" stroke-width="1.4"/>
<circle cx="202.95" cy="445.20" r="2.61" fill="none" stroke="#000" stroke-width="1.4"/>
<circle cx="167.30" cy="488.60" r="2.61" fill="#000" stroke="#000" stroke-width="1.4"/>
<circle cx="174.60" cy="478.50" r="2.61" fill="#000" stroke="#000" stroke-width="1.4"/>
<circle cx="187.05" cy="456.30" r="2.61" fill="#000" stroke="#000" stroke-width="1.4"/>
<circle cx="201.50" cy="441.40" r="2.61" fill="#000" stroke="#000" stroke-width="1.4"/>
<polygon points="165.40,483.65 166.25,486.09 168.82,486.14 166.77,487.69 167.52,490.16 165.40,488.69 163.28,490.16 164.03,487.69 161.98,486.14 164.55,486.09" fill="#ff00ff" stroke="#ff00ff" stroke-width="0.84"/>
<polygon points="174.10,473.05 174.95,475.49 177.52,475.54 175.47,477.09 176.22,479.56 174.10,478.09 171.98,479.56 172.73,477.09 170.68,475.54 173.25,475.49" fill="#ff00ff" stroke="#ff00ff" stroke-width="0.84"/>
<polygon points="190.60,447.75 191.45,450.19 194.02,450.24 191.97,451.79 192.72,454.26 190.60,452.79 188.48,454.26 189.23,451.79 187.18,450.24 189.75,450.19" fill="#ff00ff" stroke="#ff00ff" stroke-width="0.84"/>
<polygon points="208.45,431.55 209.30,433.99 211.87,434.04 209.82,435.59 210.57,438.06 208.45,436.59 206.33,438.06 207.08,435.59 205.03,434.04 207.60,433.99" fill="#ff00ff" stroke="#ff00ff" stroke-width="0.84"/>
<rect x="148.20" y="383.40" width="138.4" height="26.2" fill="#fff" stroke="#262626" stroke-width="0.8"/>
<circle cx="159.60" cy="391.00" r="3.30" fill="none" stroke="#000" stroke-width="1.4"/>
<text transform="translate(170.40 394.30) scale(0.9434 1)" font-size="9.12">Group A</text>
<circle cx="159.60" cy="402.80" r="3.30" fill="#000" stroke="#000" stroke-width="1.4"/>
<text transform="translate(170.40 406.10) scale(0.9434 1)" font-size="9.12">Mean</text>
<rect x="214.60" y="388.10" width="5.19" height="5.19" fill="#000" stroke="#000" stroke-width="1.4"/>
<text transform="translate(227.40 394.30) scale(0.9434 1)" font-size="9.12">Li et al. 2021</text>
<polygon points="217.20,398.52 218.25,401.55 221.46,401.62 218.90,403.55 219.83,406.62 217.20,404.79 214.57,406.62 215.50,403.55 212.94,401.62 216.15,401.55" fill="#ff00ff" stroke="#ff00ff" stroke-width="0.84"/>
<text transform="translate(227.40 406.10) scale(0.9434 1)" font-size="9.12">Cai et al. 2021</text>
<text x="215.30" y="543.00" class="cap" font-size="10.4" letter-spacing="0.2" text-anchor="middle" fill="#222">(<tspan font-weight="bold">e</tspan>) Standard cylinder</text>
</svg>
</body></html>
